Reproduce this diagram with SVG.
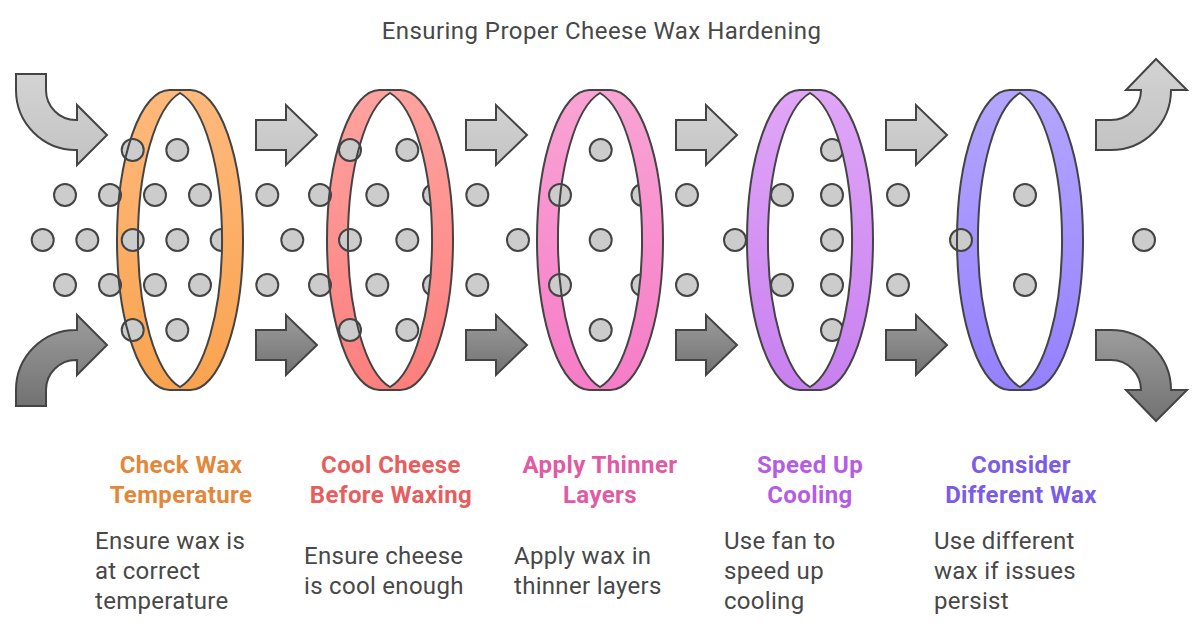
<svg xmlns="http://www.w3.org/2000/svg" width="1203" height="630" viewBox="0 0 1203 630">
<defs>
<linearGradient id="gLight" x1="0" y1="0" x2="0" y2="1"><stop offset="0" stop-color="#d3d3d3"/><stop offset="1" stop-color="#c3c3c3"/></linearGradient>
<linearGradient id="gDark" x1="0" y1="0" x2="0" y2="1"><stop offset="0" stop-color="#9c9c9c"/><stop offset="1" stop-color="#727272"/></linearGradient>
<linearGradient id="gOrange" gradientUnits="userSpaceOnUse" x1="0" y1="90" x2="0" y2="390"><stop offset="0" stop-color="#ffb97c"/><stop offset="1" stop-color="#f9a34f"/></linearGradient>
<linearGradient id="gRed" gradientUnits="userSpaceOnUse" x1="0" y1="90" x2="0" y2="390"><stop offset="0" stop-color="#ffa3a0"/><stop offset="1" stop-color="#fc7f7d"/></linearGradient>
<linearGradient id="gPink" gradientUnits="userSpaceOnUse" x1="0" y1="90" x2="0" y2="390"><stop offset="0" stop-color="#f9a4d4"/><stop offset="1" stop-color="#f67cc7"/></linearGradient>
<linearGradient id="gPurple" gradientUnits="userSpaceOnUse" x1="0" y1="90" x2="0" y2="390"><stop offset="0" stop-color="#e0a6f7"/><stop offset="1" stop-color="#c880f0"/></linearGradient>
<linearGradient id="gViolet" gradientUnits="userSpaceOnUse" x1="0" y1="90" x2="0" y2="390"><stop offset="0" stop-color="#b4a6ff"/><stop offset="1" stop-color="#9580ff"/></linearGradient>
</defs>
<style>
.arrL{fill:url(#gLight);stroke:#444;stroke-width:2;stroke-linejoin:miter}
.arrD{fill:url(#gDark);stroke:#444;stroke-width:2;stroke-linejoin:miter}
.lens{fill:#fff;stroke:none}
.ol{fill:none;stroke:#444;stroke-width:2}
.dot{fill:#cccccc;stroke:#444;stroke-width:2}
.title{font-family:Roboto,"Liberation Sans",sans-serif;font-size:24px;letter-spacing:0.45px;fill:#484848}
.head{font-family:Roboto,"Liberation Sans",sans-serif;font-size:24px;letter-spacing:0.4px;font-weight:bold;text-anchor:middle}
.desc{font-family:Roboto,"Liberation Sans",sans-serif;font-size:24px;letter-spacing:0.3px;fill:#484848}
</style>
<rect width="1203" height="630" fill="#fff"/>
<text class="title" x="601.5" y="39" text-anchor="middle">Ensuring Proper Cheese Wax Hardening</text>

<g id="connectors">
<path class="arrL" d="M16,74 L46,74 L46,90 A30,30 0 0 0 76,120 L77,120 L77,105 L107,135 L77,165 L77,150 L76,150 A60,60 0 0 1 16,90 Z"/>
<path class="arrD" d="M16,406 L46,406 L46,390 A30,30 0 0 1 76,360 L77,360 L77,375 L107,345 L77,315 L77,330 L76,330 A60,60 0 0 0 16,390 Z"/>
<path class="arrL" d="M256,120 L286,120 L286,105 L317,135 L286,165 L286,150 L256,150 Z"/>
<path class="arrL" d="M466,120 L496,120 L496,105 L527,135 L496,165 L496,150 L466,150 Z"/>
<path class="arrL" d="M676,120 L706,120 L706,105 L737,135 L706,165 L706,150 L676,150 Z"/>
<path class="arrL" d="M886,120 L916,120 L916,105 L947,135 L916,165 L916,150 L886,150 Z"/>
<path class="arrD" d="M256,330 L286,330 L286,315 L317,345 L286,375 L286,360 L256,360 Z"/>
<path class="arrD" d="M466,330 L496,330 L496,315 L527,345 L496,375 L496,360 L466,360 Z"/>
<path class="arrD" d="M676,330 L706,330 L706,315 L737,345 L706,375 L706,360 L676,360 Z"/>
<path class="arrD" d="M886,330 L916,330 L916,315 L947,345 L916,375 L916,360 L886,360 Z"/>
<path class="arrL" d="M1096,120 L1111,120 A30,30 0 0 0 1141,90 L1126,90 L1156,59 L1187,90 L1171,90 A60,60 0 0 1 1111,150 L1096,150 Z"/>
<path class="arrD" d="M1096,360 L1111,360 A30,30 0 0 1 1141,390 L1126,390 L1156,421 L1187,390 L1171,390 A60,60 0 0 0 1111,330 L1096,330 Z"/>
</g>

<g id="ring-1-back"><path fill="url(#gOrange)" d="M169.5,90 L190.5,90 A52.5,150 0 0 1 190.5,390 L169.5,390 A52.5,150 0 0 1 169.5,90 Z"/><path class="lens" d="M180,93 A52.5,150 0 0 1 180,387 A52.5,150 0 0 1 180,93 Z"/></g>
<g id="ring-2-back"><path fill="url(#gRed)" d="M379.5,90 L400.5,90 A52.5,150 0 0 1 400.5,390 L379.5,390 A52.5,150 0 0 1 379.5,90 Z"/><path class="lens" d="M390,93 A52.5,150 0 0 1 390,387 A52.5,150 0 0 1 390,93 Z"/></g>
<g id="ring-3-back"><path fill="url(#gPink)" d="M589.5,90 L610.5,90 A52.5,150 0 0 1 610.5,390 L589.5,390 A52.5,150 0 0 1 589.5,90 Z"/><path class="lens" d="M600,93 A52.5,150 0 0 1 600,387 A52.5,150 0 0 1 600,93 Z"/></g>
<g id="ring-4-back"><path fill="url(#gPurple)" d="M799.5,90 L820.5,90 A52.5,150 0 0 1 820.5,390 L799.5,390 A52.5,150 0 0 1 799.5,90 Z"/><path class="lens" d="M810,93 A52.5,150 0 0 1 810,387 A52.5,150 0 0 1 810,93 Z"/></g>
<g id="ring-5-back"><path fill="url(#gViolet)" d="M1009.5,90 L1030.5,90 A52.5,150 0 0 1 1030.5,390 L1009.5,390 A52.5,150 0 0 1 1009.5,90 Z"/><path class="lens" d="M1020,93 A52.5,150 0 0 1 1020,387 A52.5,150 0 0 1 1020,93 Z"/></g>

<g id="particles">
<circle class="dot" cx="132.7" cy="150" r="11"/><circle class="dot" cx="177.3" cy="150" r="11"/><circle class="dot" cx="350" cy="150" r="11"/><circle class="dot" cx="407.3" cy="150" r="11"/><circle class="dot" cx="600.7" cy="150" r="11"/><circle class="dot" cx="832" cy="150" r="11"/>
<circle class="dot" cx="65" cy="195" r="11"/><circle class="dot" cx="110" cy="195" r="11"/><circle class="dot" cx="155" cy="195" r="11"/><circle class="dot" cx="200" cy="195" r="11"/><circle class="dot" cx="267.3" cy="195" r="11"/><circle class="dot" cx="320" cy="195" r="11"/><circle class="dot" cx="377.3" cy="195" r="11"/><circle class="dot" cx="434" cy="195" r="11"/><circle class="dot" cx="477.3" cy="195" r="11"/><circle class="dot" cx="560" cy="195" r="11"/><circle class="dot" cx="642.5" cy="195" r="11"/><circle class="dot" cx="687" cy="195" r="11"/><circle class="dot" cx="782" cy="195" r="11"/><circle class="dot" cx="832" cy="195" r="11"/><circle class="dot" cx="898" cy="195" r="11"/><circle class="dot" cx="1025" cy="195" r="11"/>
<circle class="dot" cx="42.7" cy="240" r="11"/><circle class="dot" cx="87.3" cy="240" r="11"/><circle class="dot" cx="132.7" cy="240" r="11"/><circle class="dot" cx="177.3" cy="240" r="11"/><circle class="dot" cx="221.7" cy="240" r="11"/><circle class="dot" cx="292.3" cy="240" r="11"/><circle class="dot" cx="350" cy="240" r="11"/><circle class="dot" cx="407.3" cy="240" r="11"/><circle class="dot" cx="518" cy="240" r="11"/><circle class="dot" cx="600.7" cy="240" r="11"/><circle class="dot" cx="735" cy="240" r="11"/><circle class="dot" cx="832" cy="240" r="11"/><circle class="dot" cx="961" cy="240" r="11"/><circle class="dot" cx="1144" cy="240" r="11"/>
<circle class="dot" cx="65" cy="285" r="11"/><circle class="dot" cx="110" cy="285" r="11"/><circle class="dot" cx="155" cy="285" r="11"/><circle class="dot" cx="200" cy="285" r="11"/><circle class="dot" cx="267.3" cy="285" r="11"/><circle class="dot" cx="320" cy="285" r="11"/><circle class="dot" cx="377.3" cy="285" r="11"/><circle class="dot" cx="434" cy="285" r="11"/><circle class="dot" cx="477.3" cy="285" r="11"/><circle class="dot" cx="560" cy="285" r="11"/><circle class="dot" cx="642.5" cy="285" r="11"/><circle class="dot" cx="687" cy="285" r="11"/><circle class="dot" cx="782" cy="285" r="11"/><circle class="dot" cx="832" cy="285" r="11"/><circle class="dot" cx="898" cy="285" r="11"/><circle class="dot" cx="1025" cy="285" r="11"/>
<circle class="dot" cx="132.7" cy="330" r="11"/><circle class="dot" cx="177.3" cy="330" r="11"/><circle class="dot" cx="350" cy="330" r="11"/><circle class="dot" cx="407.3" cy="330" r="11"/><circle class="dot" cx="600.7" cy="330" r="11"/><circle class="dot" cx="832" cy="330" r="11"/>
</g>

<g id="ring-1-front"><path fill="url(#gOrange)" d="M180,93 A52.5,150 0 0 1 180,387 L190.5,390 A52.5,150 0 0 0 190.5,90 Z"/><path class="ol" d="M169.5,90 L190.5,90 A52.5,150 0 0 1 190.5,390 L169.5,390 A52.5,150 0 0 1 169.5,90 Z"/><path class="ol" d="M180,93 A52.5,150 0 0 1 180,387 A52.5,150 0 0 1 180,93 Z"/></g>
<g id="ring-2-front"><path fill="url(#gRed)" d="M390,93 A52.5,150 0 0 1 390,387 L400.5,390 A52.5,150 0 0 0 400.5,90 Z"/><path class="ol" d="M379.5,90 L400.5,90 A52.5,150 0 0 1 400.5,390 L379.5,390 A52.5,150 0 0 1 379.5,90 Z"/><path class="ol" d="M390,93 A52.5,150 0 0 1 390,387 A52.5,150 0 0 1 390,93 Z"/></g>
<g id="ring-3-front"><path fill="url(#gPink)" d="M600,93 A52.5,150 0 0 1 600,387 L610.5,390 A52.5,150 0 0 0 610.5,90 Z"/><path class="ol" d="M589.5,90 L610.5,90 A52.5,150 0 0 1 610.5,390 L589.5,390 A52.5,150 0 0 1 589.5,90 Z"/><path class="ol" d="M600,93 A52.5,150 0 0 1 600,387 A52.5,150 0 0 1 600,93 Z"/></g>
<g id="ring-4-front"><path fill="url(#gPurple)" d="M810,93 A52.5,150 0 0 1 810,387 L820.5,390 A52.5,150 0 0 0 820.5,90 Z"/><path class="ol" d="M799.5,90 L820.5,90 A52.5,150 0 0 1 820.5,390 L799.5,390 A52.5,150 0 0 1 799.5,90 Z"/><path class="ol" d="M810,93 A52.5,150 0 0 1 810,387 A52.5,150 0 0 1 810,93 Z"/></g>
<g id="ring-5-front"><path fill="url(#gViolet)" d="M1020,93 A52.5,150 0 0 1 1020,387 L1030.5,390 A52.5,150 0 0 0 1030.5,90 Z"/><path class="ol" d="M1009.5,90 L1030.5,90 A52.5,150 0 0 1 1030.5,390 L1009.5,390 A52.5,150 0 0 1 1009.5,90 Z"/><path class="ol" d="M1020,93 A52.5,150 0 0 1 1020,387 A52.5,150 0 0 1 1020,93 Z"/></g>

<g id="step-1"><text class="head" fill="#e3873a"><tspan x="181" y="473">Check Wax</tspan><tspan x="181" y="503">Temperature</tspan></text><text class="desc"><tspan x="95" y="549">Ensure wax is</tspan><tspan x="95" y="579">at correct</tspan><tspan x="95" y="609">temperature</tspan></text></g>
<g id="step-2"><text class="head" fill="#e85d5d"><tspan x="391" y="473">Cool Cheese</tspan><tspan x="391" y="503">Before Waxing</tspan></text><text class="desc"><tspan x="304" y="564">Ensure cheese</tspan><tspan x="304" y="594">is cool enough</tspan></text></g>
<g id="step-3"><text class="head" fill="#e05aa4"><tspan x="600" y="473">Apply Thinner</tspan><tspan x="600" y="503">Layers</tspan></text><text class="desc"><tspan x="514" y="564">Apply wax in</tspan><tspan x="514" y="594">thinner layers</tspan></text></g>
<g id="step-4"><text class="head" fill="#b55ce6"><tspan x="810" y="473">Speed Up</tspan><tspan x="810" y="503">Cooling</tspan></text><text class="desc"><tspan x="724" y="549">Use fan to</tspan><tspan x="724" y="579">speed up</tspan><tspan x="724" y="609">cooling</tspan></text></g>
<g id="step-5"><text class="head" fill="#7a5ce6"><tspan x="1021" y="473">Consider</tspan><tspan x="1021" y="503">Different Wax</tspan></text><text class="desc"><tspan x="934" y="549">Use different</tspan><tspan x="934" y="579">wax if issues</tspan><tspan x="934" y="609">persist</tspan></text></g>
</svg>
